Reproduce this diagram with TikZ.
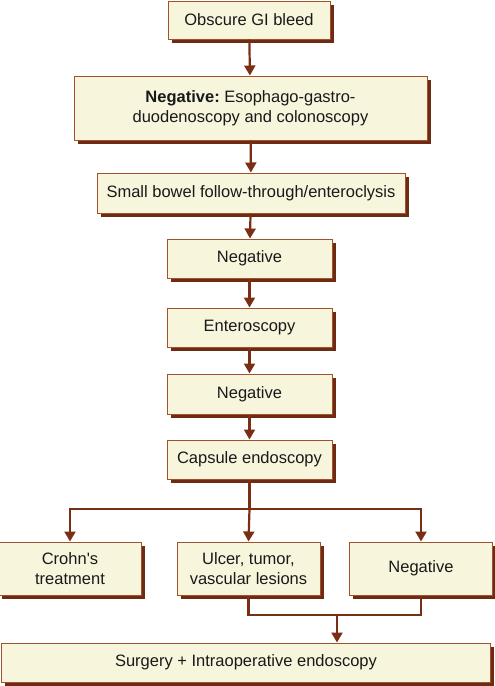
\documentclass[tikz,border=0pt]{standalone}
\usepackage{fontspec}
\setmainfont{Liberation Sans}
\usetikzlibrary{arrows.meta,shadows}
\definecolor{boxfill}{HTML}{F8F5DD}
\definecolor{boxline}{HTML}{A0522D}
\definecolor{shade}{HTML}{6E2A12}
\definecolor{wire}{HTML}{7A2E14}
\frenchspacing
\begin{document}
\begin{tikzpicture}[x=1pt,y=-1pt,
  stepbox/.style={draw=boxline,line width=1pt,fill=boxfill,align=center,
    inner sep=0pt,font=\fontsize{16.5}{20}\selectfont,text=black!90,
    drop shadow={shadow xshift=3.5pt,shadow yshift=-3.5pt,fill=shade,opacity=1}},
  link/.style={draw=wire,line width=2.2pt,-{Triangle[length=10pt,width=11pt]}},
  wire/.style={draw=wire,line width=2.2pt}]
  \useasboundingbox (0,0) rectangle (495,686);
  % main column
  \node[stepbox,minimum width=162pt,minimum height=38pt] (bleed) at (249,20) {Obscure GI bleed};
  \node[stepbox,minimum width=353pt,minimum height=64pt] (egd) at (250.5,108)
    {\textbf{Negative:} Esophago-gastro-\\duodenoscopy and colonoscopy};
  \node[stepbox,minimum width=308pt,minimum height=40pt] (sbft) at (251,193) {Small bowel follow-through/enteroclysis};
  \node[stepbox,minimum width=165pt,minimum height=39pt] (neg1) at (249.5,258.5) {Negative};
  \node[stepbox,minimum width=165pt,minimum height=39pt] (entero) at (249.5,327.5) {Enteroscopy};
  \node[stepbox,minimum width=165pt,minimum height=40pt] (neg2) at (249.5,394) {Negative};
  \node[stepbox,minimum width=165pt,minimum height=39pt] (capsule) at (249.5,459.5) {Capsule endoscopy};
  % outcomes
  \node[stepbox,minimum width=143pt,minimum height=53pt] (crohn) at (70,568.5) {Crohn\textquotesingle s\\treatment};
  \node[stepbox,minimum width=143pt,minimum height=53pt] (ulcer) at (248.5,568.5) {Ulcer, tumor,\\vascular lesions};
  \node[stepbox,minimum width=143pt,minimum height=53pt] (neg3) at (421,568.5) {Negative};
  \node[stepbox,minimum width=489pt,minimum height=39pt] (surgery) at (246,662.5) {Surgery + Intraoperative endoscopy};
  % connectors
  \draw[link] (bleed) -- (egd);
  \draw[link] (egd) -- (sbft);
  \draw[link] (sbft) -- (neg1);
  \draw[link] (neg1) -- (entero);
  \draw[link] (entero) -- (neg2);
  \draw[link] (neg2) -- (capsule);
  \coordinate (split) at (249.5,509);
  \coordinate (join) at (337,615);
  \draw[wire] (capsule.south) -- (split);
  \draw[link] (split) -| (crohn.north);
  \draw[link] (split) -- (ulcer.north);
  \draw[link] (split) -| (neg3.north);
  \draw[wire] (ulcer.south) |- (join) -| (neg3.south);
  \draw[link] (join) -- (join |- surgery.north);
\end{tikzpicture}
\end{document}
